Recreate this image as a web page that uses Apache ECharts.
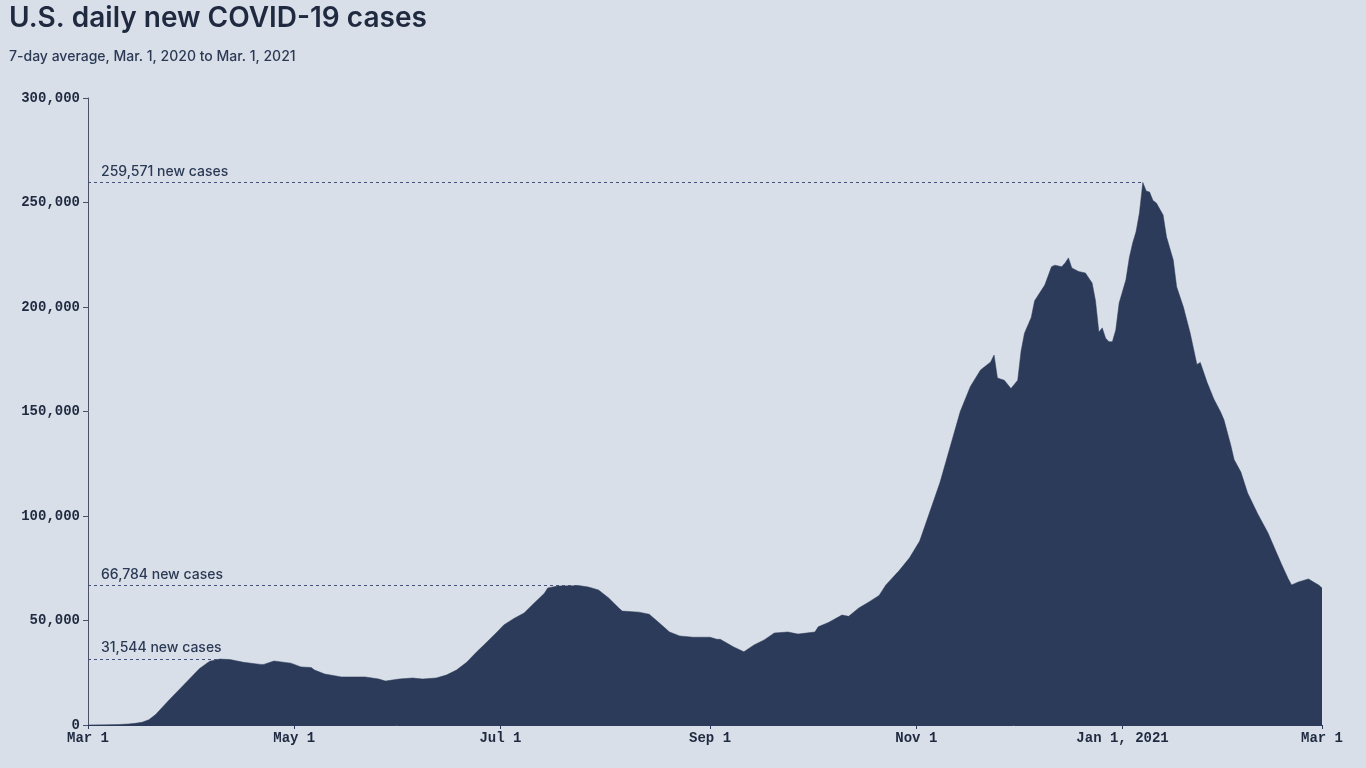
<!DOCTYPE html>
<html>
<head>
<meta charset="utf-8">
<script src="https://cdn.jsdelivr.net/npm/echarts@6/dist/echarts.min.js"></script>
<style>
  html, body { margin: 0; padding: 0; background: #d8dfe8; }
  #chart { width: 1366px; height: 768px; }
</style>
</head>
<body>
<div id="chart"></div>
<script>
// 7-day average of new cases
const dates = [
  '2020-03-01','2020-03-06','2020-03-10','2020-03-13','2020-03-15','2020-03-17','2020-03-19','2020-03-21',
  '2020-03-23','2020-03-25','2020-03-28','2020-03-31','2020-04-03','2020-04-06','2020-04-09','2020-04-12',
  '2020-04-16','2020-04-21','2020-04-22','2020-04-25','2020-04-30','2020-05-03','2020-05-06','2020-05-07',
  '2020-05-10','2020-05-15','2020-05-18','2020-05-22','2020-05-26','2020-05-28','2020-06-01','2020-06-05',
  '2020-06-08','2020-06-12','2020-06-15','2020-06-18','2020-06-21','2020-06-24','2020-06-27','2020-06-30',
  '2020-07-02','2020-07-05','2020-07-08','2020-07-11','2020-07-14','2020-07-15','2020-07-18','2020-07-23',
  '2020-07-24','2020-07-27','2020-07-30','2020-08-02','2020-08-05','2020-08-06','2020-08-11','2020-08-14',
  '2020-08-17','2020-08-20','2020-08-23','2020-08-27','2020-08-30','2020-09-01','2020-09-03','2020-09-04',
  '2020-09-08','2020-09-11','2020-09-14','2020-09-17','2020-09-20','2020-09-24','2020-09-27','2020-10-02',
  '2020-10-03','2020-10-06','2020-10-10','2020-10-12','2020-10-15','2020-10-18','2020-10-21','2020-10-23',
  '2020-10-27','2020-10-30','2020-11-02','2020-11-05','2020-11-08','2020-11-11','2020-11-14','2020-11-17',
  '2020-11-20','2020-11-23','2020-11-24','2020-11-25','2020-11-27','2020-11-29','2020-12-01','2020-12-02',
  '2020-12-03','2020-12-05','2020-12-06','2020-12-08','2020-12-09','2020-12-11','2020-12-12','2020-12-14',
  '2020-12-15','2020-12-16','2020-12-17','2020-12-19','2020-12-21','2020-12-23','2020-12-24','2020-12-25',
  '2020-12-26','2020-12-27','2020-12-28','2020-12-29','2020-12-30','2020-12-31','2021-01-02','2021-01-03',
  '2021-01-04','2021-01-05','2021-01-06','2021-01-07','2021-01-08','2021-01-09','2021-01-10','2021-01-11',
  '2021-01-13','2021-01-14','2021-01-16','2021-01-17','2021-01-19','2021-01-21','2021-01-22','2021-01-23',
  '2021-01-24','2021-01-26','2021-01-28','2021-01-30','2021-01-31','2021-02-02','2021-02-03','2021-02-05',
  '2021-02-07','2021-02-10','2021-02-13','2021-02-17','2021-02-19','2021-02-20','2021-02-22','2021-02-25',
  '2021-02-27','2021-02-28','2021-03-01'
];
const cases = [
  10, 60, 200, 500, 800, 1300, 2500, 5000,
  8500, 12000, 17000, 22000, 27000, 30500, 31544, 31300,
  30000, 29000, 29000, 30600, 29600, 27800, 27500, 26300,
  24400, 23000, 23000, 23000, 22000, 21000, 22000, 22500,
  22000, 22500, 23900, 26300, 30000, 35000, 39700, 44500,
  47900, 51000, 53600, 58400, 63000, 65600, 66500, 66600,
  66784, 66000, 64600, 60800, 56000, 54500, 54000, 53000,
  48800, 44500, 42600, 42000, 42000, 42000, 41000, 41000,
  37300, 35000, 38300, 40700, 44000, 44500, 43500, 44500,
  47000, 49000, 52600, 52000, 56000, 58900, 62000, 67000,
  74000, 80000, 88000, 102000, 116000, 133000, 150000, 162000,
  169900, 173700, 177000, 166000, 165000, 161000, 165000, 179000,
  187500, 195000, 203000, 208000, 210500, 219300, 220000, 219300,
  221000, 223500, 218700, 217000, 216300, 211500, 203000, 188000,
  190000, 185000, 183400, 183400, 189000, 201900, 213000, 223500,
  230600, 236000, 245000, 259571, 255500, 255000, 251000, 249800,
  244000, 233600, 222500, 209700, 200000, 187600, 180000, 172500,
  173500, 164000, 156000, 149800, 146000, 134000, 127000, 121000,
  111000, 101000, 92000, 77000, 70000, 67000, 68400, 69900,
  67900, 67000, 65600
];

const tickDates = ['2020-03-01','2020-05-01','2020-07-01','2020-09-01','2020-11-01','2021-01-01','2021-03-01'];
const tickLabels = ['Mar 1','May 1','Jul 1','Sep 1','Nov 1','Jan 1, 2021','Mar 1'];

// annotated peaks: where the dotted line ends and its value
const peakDates = ['2020-04-09','2020-07-24','2021-01-07'];
const peakValues = [31544, 66784, 259571];

const toTime = s => {
  const [y, m, d] = s.split('-').map(Number);
  return Date.UTC(y, m - 1, d);
};

const navy = '#2c3b59';
const ink = '#1f2a40';
const mono = '"Liberation Mono", "DejaVu Sans Mono", monospace';
const sans = 'Inter, "Noto Sans", sans-serif';

const seriesData = dates.map((d, i) => [toTime(d), cases[i]]);
const tickTimes = tickDates.map(toTime);
const startTime = toTime('2020-03-01');

const markData = peakValues.map((v, i) => [
  { coord: [startTime, v], name: v.toLocaleString('en-US') + ' new cases' },
  { coord: [toTime(peakDates[i]), v] }
]);

const myChart = echarts.init(document.getElementById('chart'));
const option = {
  backgroundColor: '#d8dfe8',
  animation: false,
  title: {
    text: 'U.S. daily new COVID-19 cases',
    subtext: '7-day average, Mar. 1, 2020 to Mar. 1, 2021',
    left: 9,
    top: 5,
    padding: 0,
    itemGap: 17,
    textStyle: { fontFamily: sans, fontSize: 28, fontWeight: 600, color: ink },
    subtextStyle: { fontFamily: sans, fontSize: 14, fontWeight: 500, color: '#2b3955' }
  },
  grid: { left: 88, right: 44, top: 98, bottom: 43 },
  xAxis: {
    // dates as epoch ms on a value axis, so ticks can sit on the 1st of each label month
    type: 'value',
    min: startTime,
    max: toTime('2021-03-01'),
    axisLine: { show: true, lineStyle: { color: navy, width: 1 } },
    axisTick: { show: true, customValues: tickTimes, length: 4, lineStyle: { color: navy } },
    axisLabel: {
      customValues: tickTimes,
      margin: 6,
      fontFamily: mono,
      fontSize: 14,
      fontWeight: 'bold',
      color: ink,
      formatter: (value) => {
        const idx = tickTimes.findIndex(t => Math.abs(t - value) < 86400000);
        return idx >= 0 ? tickLabels[idx] : '';
      }
    },
    splitLine: { show: false }
  },
  yAxis: {
    type: 'value',
    min: 0,
    max: 300000,
    interval: 50000,
    axisLine: { show: true, lineStyle: { color: '#4a5263', width: 1 } },
    axisTick: { show: true, length: 5, lineStyle: { color: '#4a5263' } },
    axisLabel: {
      margin: 8,
      fontFamily: mono,
      fontSize: 14,
      fontWeight: 'bold',
      color: ink,
      formatter: v => v.toLocaleString('en-US')
    },
    splitLine: { show: false }
  },
  series: [{
    type: 'line',
    data: seriesData,
    showSymbol: false,
    lineStyle: { width: 0.5, color: navy },
    areaStyle: { color: navy, opacity: 1 },
    markLine: {
      silent: true,
      symbol: 'none',
      lineStyle: { color: '#45537a', type: [3, 3], width: 1 },
      label: {
        show: true,
        position: 'insideStartTop',
        formatter: p => p.name,
        distance: [13, 4],
        fontFamily: sans,
        fontSize: 14,
        fontWeight: 500,
        color: '#2b3955'
      },
      data: markData
    }
  }]
};
myChart.setOption(option);
</script>
</body>
</html>
